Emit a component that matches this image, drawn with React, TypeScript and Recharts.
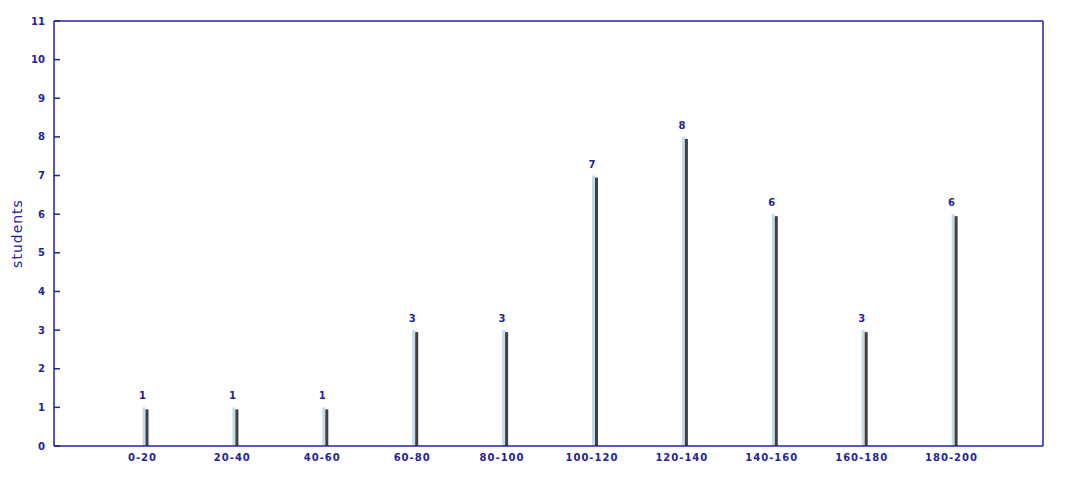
import { BarChart, Bar, XAxis, YAxis, LabelList, CartesianGrid } from "recharts";

const ranges = ["0-20", "20-40", "40-60", "60-80", "80-100", "100-120", "120-140", "140-160", "160-180", "180-200"];
const students = [1, 1, 1, 3, 3, 7, 8, 6, 3, 6];
const yTicks = [0, 1, 2, 3, 4, 5, 6, 7, 8, 9, 10, 11];

const navy = "#23239a";
const font = "'DejaVu Sans', sans-serif";

const data = ranges.map((range, i) => ({ range, students: students[i] }));

// light front edge + dark offset edge, like the old 3d-ish bars
const TwinBar = (props: any) => {
  const { x, y, width, height } = props;
  const cx = x + width / 2;
  const bottom = y + height;
  return (
    <g>
      <rect x={cx} y={y} width={3} height={height} fill="#c6dbea" />
      <rect x={cx + 3} y={y + 2} width={3} height={Math.max(0, bottom - y - 2)} fill="#404040" />
    </g>
  );
};

const YTick = (props: any) => {
  const { x, y, payload } = props;
  return (
    <g>
      <line x1={x + 9} x2={x + 15} y1={y} y2={y} stroke={navy} strokeWidth={1.5} />
      <text x={x} y={y} dy={3.5} textAnchor="end" fill={navy} fontSize={10} fontWeight="bold" fontFamily={font}>
        {payload.value}
      </text>
    </g>
  );
};

const XTick = (props: any) => {
  const { x, y, payload } = props;
  return (
    <text x={x} y={y} dy={8} textAnchor="middle" fill={navy} fontSize={10} fontWeight="bold" fontFamily={font} letterSpacing={1}>
      {payload.value}
    </text>
  );
};

const TopLabel = (props: any) => {
  const { x, y, width, value } = props;
  return (
    <text x={x + width / 2} y={y - 8} textAnchor="middle" fill={navy} fontSize={10} fontWeight="bold" fontFamily={font}>
      {value}
    </text>
  );
};

export default function App() {
  return (
    <div style={{ position: "absolute", left: 0, top: 0, background: "#fff" }}>
      <BarChart width={1084} height={488} data={data} margin={{ top: 21, right: 41, bottom: 0, left: 0 }}>
        {/* top and right edges of the frame */}
        <CartesianGrid
          stroke={navy}
          strokeWidth={1.5}
          horizontalCoordinatesGenerator={({ offset }: any) => [offset.top]}
          verticalCoordinatesGenerator={({ offset }: any) => [offset.left + offset.width]}
        />
        <XAxis
          dataKey="range"
          height={42}
          axisLine={{ stroke: navy, strokeWidth: 1.5 }}
          tickLine={false}
          tickSize={0}
          tickMargin={7}
          tick={<XTick />}
          padding={{ left: 43.5, right: 46.5 }}
          interval={0}
        />
        <YAxis
          width={54}
          domain={[0, 11]}
          ticks={yTicks}
          interval={0}
          axisLine={{ stroke: navy, strokeWidth: 1.5 }}
          tickLine={false}
          tickSize={0}
          tickMargin={9}
          tick={<YTick />}
          label={{ value: "students", angle: -90, position: "insideLeft", offset: 17, fill: navy, fontSize: 14, fontFamily: font, letterSpacing: 1, style: { textAnchor: "middle" } }}
        />
        <Bar dataKey="students" barSize={12} shape={<TwinBar />} isAnimationActive={false}>
          <LabelList dataKey="students" content={<TopLabel />} />
        </Bar>
      </BarChart>
    </div>
  );
}
